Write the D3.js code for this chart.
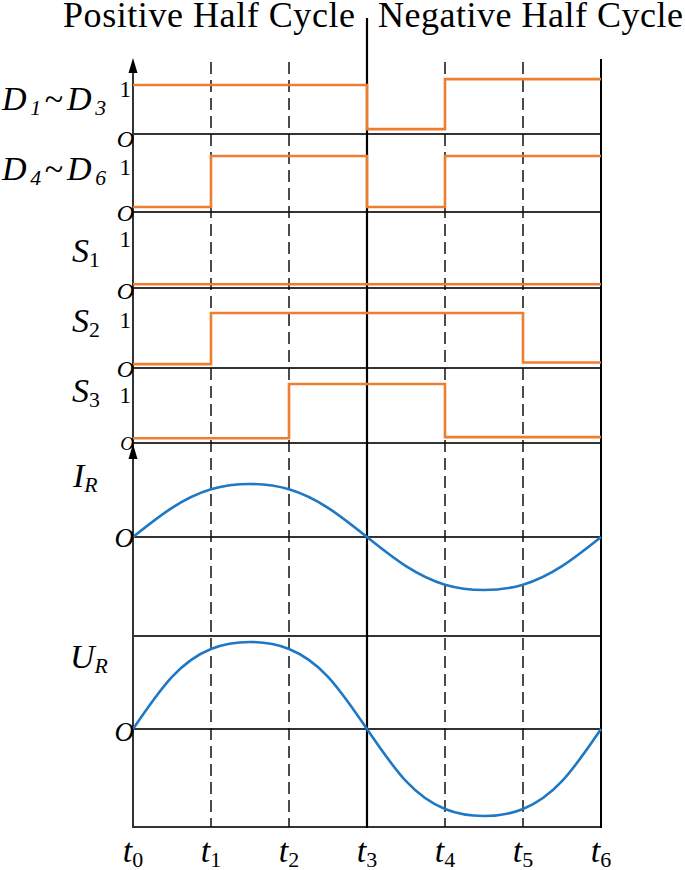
<!DOCTYPE html>
<html>
<head>
<meta charset="utf-8">
<script src="https://cdn.jsdelivr.net/npm/d3@7"></script>
<style>
  body { margin: 0; background: #fff; }
</style>
</head>
<body>
<div id="plot"></div>
<script>

// time points t0..t6 (interval index)
var tickLabels = ["0", "1", "2", "3", "4", "5", "6"];
var dashedTicks = [1, 2, 4, 5];

// switching states, one value per interval t0-t1 ... t5-t6
var stateD13 = [1, 1, 1, 0.1, 1.12, 1.12];
var stateD46 = [0.09, 1, 1, 0.09, 1, 1];
var stateS1  = [0.08, 0.08, 0.08, 0.08, 0.08, 0.08];
var stateS2  = [0.07, 1, 1, 1, 1, 0.1];
var stateS3  = [0.08, 0.08, 1, 1, 0.1, 0.1];

// sampled waveforms (read at half-interval steps)
var waveT  = [0, 0.5, 1, 1.5, 2, 2.5, 3, 3.5, 4, 4.5, 5, 5.5, 6];
var waveIR = [0, 0.55, 0.9, 1, 0.9, 0.55, 0, -0.55, -0.9, -1, -0.9, -0.55, 0];
var waveUR = [0, 0.6, 0.92, 1, 0.92, 0.6, 0, -0.6, -0.92, -1, -0.92, -0.6, 0];

var width = 685, height = 870;
var orange = "#ED7D31", blue = "#1f78c4", axisCol = "#333";
var serif = "'Liberation Serif', 'Times New Roman', serif";

var svg = d3.select("#plot").append("svg")
    .attr("width", width)
    .attr("height", height);

var x = d3.scaleLinear().domain([0, 6]).range([133, 601]);

function addText(px, py, size) {
    return svg.append("text")
        .attr("x", px).attr("y", py)
        .style("font-family", serif)
        .style("font-size", size + "px")
        .style("fill", "#000");
}

// digital panels: baseline / level-1 pixel positions
var panels = [
    {name: "D13", data: stateD13, base: 134, one: 85, oY: 147, oSize: 24, oneY: 97},
    {name: "D46", data: stateD46, base: 212, one: 156, oY: 221, oSize: 24, oneY: 175},
    {name: "S1",  data: stateS1,  base: 288, one: 241, oY: 299, oSize: 24, oneY: 247},
    {name: "S2",  data: stateS2,  base: 368, one: 313, oY: 377, oSize: 24, oneY: 328},
    {name: "S3",  data: stateS3,  base: 443, one: 384, oY: 450, oSize: 19, oneY: 403}
];

var analog = [
    {name: "IR", data: waveIR, zero: 537, amp: 53, oY: 547},
    {name: "UR", data: waveUR, zero: 729, amp: 87, oY: 741}
];

// horizontal rules
var hLines = [134, 212, 288, 368, 443, 537, 636, 729, 827];
svg.append("g").selectAll("line")
    .data(hLines)
    .enter().append("line")
    .attr("x1", x(0)).attr("x2", x(6))
    .attr("y1", function(d) { return d; })
    .attr("y2", function(d) { return d; })
    .style("stroke", axisCol)
    .style("stroke-width", 2);

// dashed time markers
svg.append("g").selectAll("line")
    .data(dashedTicks)
    .enter().append("line")
    .attr("x1", function(d) { return x(d); })
    .attr("x2", function(d) { return x(d); })
    .attr("y1", 62).attr("y2", 827)
    .style("stroke", "#111")
    .style("stroke-width", 1.5)
    .style("stroke-dasharray", "12,6");

// solid markers t3, t6
svg.append("line")
    .attr("x1", x(3)).attr("x2", x(3))
    .attr("y1", 18).attr("y2", 828)
    .style("stroke", "#000").style("stroke-width", 2.2);
svg.append("line")
    .attr("x1", x(6)).attr("x2", x(6))
    .attr("y1", 59).attr("y2", 828)
    .style("stroke", "#000").style("stroke-width", 2);

// left axis
svg.append("line")
    .attr("x1", x(0)).attr("x2", x(0))
    .attr("y1", 66).attr("y2", 828)
    .style("stroke", axisCol).style("stroke-width", 2);

function arrow(tipY) {
    var cx = x(0);
    svg.append("path")
        .attr("d", "M" + cx + "," + tipY + "L" + (cx - 4.5) + "," + (tipY + 15) +
              "L" + (cx + 4.5) + "," + (tipY + 15) + "Z")
        .style("fill", "#000");
}
arrow(58);
arrow(444);

// step traces
panels.forEach(function(p) {
    var y = d3.scaleLinear().domain([0, 1]).range([p.base, p.one]);
    var pts = [];
    p.data.forEach(function(v, i) {
        pts.push([i, v]);
        pts.push([i + 1, v]);
    });
    var line = d3.line()
        .x(function(d) { return x(d[0]); })
        .y(function(d) { return y(d[1]); });
    svg.append("path")
        .attr("class", "trace-" + p.name)
        .attr("d", line(pts))
        .style("fill", "none")
        .style("stroke", orange)
        .style("stroke-width", 2.6);

    addText(131, p.oneY, 23)
        .attr("text-anchor", "end")
        .text("1");
    addText(134, p.oY, p.oSize)
        .attr("text-anchor", "end")
        .style("font-style", "italic")
        .text("O");
});

// analog waveforms
analog.forEach(function(a) {
    var y = d3.scaleLinear().domain([-1, 1]).range([a.zero + a.amp, a.zero - a.amp]);
    var line = d3.line()
        .x(function(d, i) { return x(waveT[i]); })
        .y(function(d) { return y(d); })
        .curve(d3.curveNatural);
    svg.append("path")
        .attr("d", line(a.data))
        .style("fill", "none")
        .style("stroke", blue)
        .style("stroke-width", 2.6);
    addText(134, a.oY, 27)
        .attr("text-anchor", "end")
        .style("font-style", "italic")
        .text("O");
});

// titles
addText(63, 27, 36)
    .attr("textLength", 292)
    .text("Positive Half Cycle");
addText(378, 27, 36)
    .attr("textLength", 305)
    .text("Negative Half Cycle");

// signal names, parts: [text, italic, subscript, raised]
function label(px, py, size, parts, len) {
    var t = addText(px, py, size);
    if (len) t.attr("textLength", len);
    parts.forEach(function(p) {
        var s = t.append("tspan").text(p[0]);
        if (p[1]) s.style("font-style", "italic");
        if (p[2]) s.style("font-size", (size * 0.64) + "px").attr("dy", size * 0.16);
        else if (p[3]) s.attr("dy", -size * 0.16);
    });
}

label(2, 110, 34, [["D", 1], ["1", 1, 1], ["~", 0, 0, 1], ["D", 1], ["3", 1, 1]], 104);
label(2, 180, 34, [["D", 1], ["4", 1, 1], ["~", 0, 0, 1], ["D", 1], ["6", 1, 1]], 104);
label(72, 262, 34, [["S", 1], ["1", 0, 1]]);
label(72, 332, 34, [["S", 1], ["2", 0, 1]]);
label(72, 402, 34, [["S", 1], ["3", 0, 1]]);
label(73, 487, 34, [["I", 1], ["R", 1, 1]]);
label(70, 668, 34, [["U", 1], ["R", 1, 1]]);

// time labels
tickLabels.forEach(function(d, i) {
    var t = addText(x(i), 862, 34)
        .attr("text-anchor", "middle");
    t.append("tspan").style("font-style", "italic").text("t");
    t.append("tspan").style("font-size", "22px").attr("dy", 5).text(d);
});

</script>
</body>
</html>
